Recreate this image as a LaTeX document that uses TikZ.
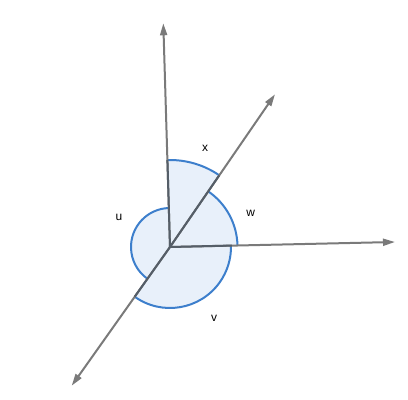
\documentclass[tikz,border=0pt]{standalone}
\usepackage{fontspec}
\setmainfont{Liberation Sans}
\usetikzlibrary{arrows.meta}
\definecolor{sfill}{HTML}{E8F0FA}
\definecolor{sarc}{HTML}{3D7FCC}
\definecolor{rayc}{HTML}{7A7A7A}
\definecolor{raydark}{HTML}{555E68}
\tikzset{
  sector/.style={fill=sfill},
  arcline/.style={draw=sarc, line width=2bp},
  ray/.style={draw=rayc, line width=2bp, -{Triangle[length=12bp,width=7bp]}},
  raydk/.style={draw=raydark, line width=2bp},
  lab/.style={font=\fontsize{12}{14}\selectfont, text=black, inner sep=0pt}
}
\begin{document}
\begin{tikzpicture}[x=1bp,y=1bp]
\useasboundingbox (0,0) rectangle (408,400);
\coordinate (O) at (170,153);
\coordinate (tU) at (163.3,376.7);
\coordinate (tUR) at (275,305.7);
\coordinate (tR) at (395,158);
\coordinate (tLL) at (71.7,14.3);
% sectors
\fill[sector] (O) -- ++(55.5:87) arc[start angle=55.5, end angle=91.7, radius=87] -- cycle;
\fill[sector] (O) -- ++(1.35:67.5) arc[start angle=1.35, end angle=55.5, radius=67.5] -- cycle;
\fill[sector] (O) -- ++(91.7:39) arc[start angle=91.7, end angle=234.6, radius=39] -- cycle;
\fill[sector] (O) -- ++(234.6:61) arc[start angle=234.6, end angle=361.35, radius=61] -- cycle;
% arcs
\draw[arcline] (O) ++(55.5:87) arc[start angle=55.5, end angle=91.7, radius=87];
\draw[arcline] (O) ++(1.35:67.5) arc[start angle=1.35, end angle=55.5, radius=67.5];
\draw[arcline] (O) ++(91.7:39) arc[start angle=91.7, end angle=234.6, radius=39];
\draw[arcline] (O) ++(234.6:61) arc[start angle=234.6, end angle=361.35, radius=61];
% rays
\draw[ray] (O) -- (tU);
\draw[ray] (O) -- (tUR);
\draw[ray] (O) -- (tR);
\draw[ray] (O) -- (tLL);
% darker parts inside sectors
\draw[raydk] (O) -- ++(91.7:87);
\draw[raydk] (O) -- ++(55.5:87);
\draw[raydk] (O) -- ++(1.35:62);
\draw[raydk] (O) -- ++(234.6:61);
% labels
\node[lab] (lx) at (205,251.7) {x};
\node[lab] (lw) at (250.7,186.3) {w};
\node[lab] (lu) at (119,182.3) {u};
\node[lab] (lv) at (214,81.7) {v};
\end{tikzpicture}
\end{document}
